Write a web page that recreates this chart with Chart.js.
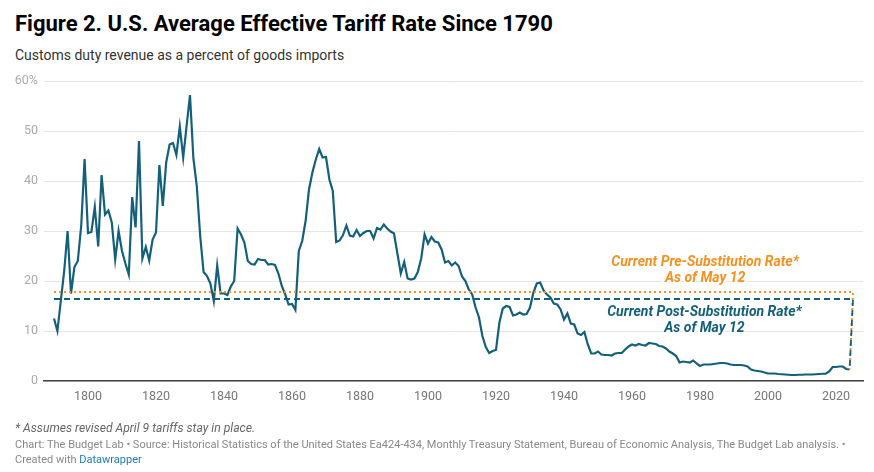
<!DOCTYPE html>
<html>
<head>
<meta charset="utf-8">
<script src="https://cdn.jsdelivr.net/npm/chart.js@4"></script>
<style>
  html, body { margin: 0; padding: 0; background: #fff; }
  body { width: 874px; height: 472px; position: relative; overflow: hidden; font-family: Roboto, sans-serif; }
  #grafico { position: absolute; left: 0; top: 0; }
  .txt { position: absolute; left: 15px; white-space: nowrap; }
  #titulo { top: 9px; font-size: 22px; font-weight: 700; color: #000; line-height: 30px; }
  #sub { top: 45px; font-size: 14px; color: #333; line-height: 20px; }
  #nota { top: 421px; font-size: 12.15px; font-style: italic; color: #666; line-height: 15px; }
  #fuente { top: 438px; font-size: 11px; color: #888; line-height: 14.5px; }
  #fuente a { color: #1a7fb0; text-decoration: none; }
</style>
</head>
<body>
<div class="txt" id="titulo">Figure 2. U.S. Average Effective Tariff Rate Since 1790</div>
<div class="txt" id="sub">Customs duty revenue as a percent of goods imports</div>
<canvas id="grafico" width="874" height="472"></canvas>
<div class="txt" id="nota">* Assumes revised April 9 tariffs stay in place.</div>
<div class="txt" id="fuente">Chart: The Budget Lab • Source: Historical Statistics of the United States Ea424-434, Monthly Treasury Statement, Bureau of Economic Analysis, The Budget Lab analysis. •<br>Created with <a>Datawrapper</a></div>

<script>
/* ── DATOS ─────────────────────────────────────────────────── */
const firstYear = 1790;
const tariffRate = [
  12.5, 10, 16, 22, 30, 17.5, 22.8, 24, 31, 44.4,
  29.6, 29.8, 34.8, 26.9, 41.2, 33.3, 34.1, 31.7, 24.3, 30,
  26, 23.5, 21.3, 36.8, 30.7, 48, 24.5, 26.8, 24.1, 28.3,
  29.7, 43.2, 35, 43.7, 47.3, 47.6, 45.2, 50.9, 44.7, 51,
  57.2, 44.5, 39, 29, 21.8, 21, 19.5, 16, 23.1, 17.5,
  17.5, 17.2, 18.9, 20, 30.5, 29.3, 27.7, 24, 23.4, 23.3,
  24.4, 24.2, 24.2, 23.3, 23.4, 23.2, 21.5, 19, 17.3, 15.3,
  15.4, 14.2, 26, 28, 32, 38.3, 41.7, 44.3, 46.4, 44.7,
  44.8, 40.3, 38, 27.8, 28.1, 29.2, 31.1, 29.1, 28.9, 30.2,
  29, 29.6, 30, 30, 28.5, 30.6, 30.3, 31.3, 30.5, 29.9,
  29.5, 25.5, 21.5, 23.8, 20.5, 20.3, 20.5, 21.8, 24.5, 29.3,
  27.5, 28.8, 27.9, 27.7, 26.3, 23.7, 24, 23.1, 23.7, 23,
  20.9, 20, 18.3, 17.3, 14.7, 12.7, 9, 6.8, 5.6, 6,
  6.2, 11.7, 14.5, 15, 14.8, 13.1, 13.3, 13.7, 13.3, 13.4,
  14.7, 17.7, 19.5, 19.7, 18.1, 17.3, 16.7, 15.5, 15.3, 14.3,
  12.3, 13.5, 11.5, 11.3, 9.5, 9.2, 9.8, 7.3, 5.5, 5.5,
  5.9, 5.3, 5.2, 5.2, 5.1, 5.5, 5.6, 5.6, 6.3, 6.9,
  7.3, 7.1, 7.4, 7.2, 7.1, 7.6, 7.5, 7.4, 7, 6.9,
  6.5, 5.9, 5.5, 5, 3.7, 3.9, 3.8, 3.7, 4.1, 3.5,
  3, 3.3, 3.3, 3.3, 3.4, 3.5, 3.6, 3.6, 3.5, 3.3,
  3.2, 3.2, 3.2, 3.1, 2.9, 2.3, 2.1, 2, 1.9, 1.7,
  1.5, 1.5, 1.5, 1.4, 1.35, 1.3, 1.25, 1.2, 1.2, 1.25,
  1.25, 1.3, 1.3, 1.3, 1.35, 1.4, 1.45, 1.45, 1.9, 2.8,
  2.8, 2.9, 2.9, 2.4, 2.3
];
const rateLineYears = [1790, 2025, 2024];
const preRateValues = [17.8, 17.8, 2.3];
const postRateValues = [16.4, 16.4, 2.3];
const xTicks = [1800, 1820, 1840, 1860, 1880, 1900, 1920, 1940, 1960, 1980, 2000, 2020];
const yTicks = [0, 10, 20, 30, 40, 50, 60];
const preLabelLines = ['Current Pre-Substitution Rate*', 'As of May 12'];
const postLabelLines = ['Current Post-Substitution Rate*', 'As of May 12'];

const COLOR_LINEA = '#14607a';
const COLOR_NARANJA = '#f7901e';

const toPoints = (xs, ys) => ys.map((y, i) => ({ x: xs[i], y }));
const years = tariffRate.map((_, i) => firstYear + i);

/* ── ETIQUETAS DE LAS TASAS ────────────────────────────────── */
const etiquetas = {
  id: 'etiquetas',
  afterDatasetsDraw(chart) {
    const { ctx, scales: { x, y } } = chart;
    const dibujar = (lineas, anio, valor, color) => {
      ctx.save();
      ctx.font = 'italic 700 14px Roboto';
      ctx.textAlign = 'center';
      ctx.textBaseline = 'middle';
      lineas.forEach((t, i) => {
        const py = y.getPixelForValue(valor) + i * 16;
        ctx.lineWidth = 3;
        ctx.strokeStyle = '#fff';
        ctx.strokeText(t, x.getPixelForValue(anio), py);
        ctx.fillStyle = color;
        ctx.fillText(t, x.getPixelForValue(anio), py);
      });
      ctx.restore();
    };
    dibujar(preLabelLines, 1981.5, 23.8, COLOR_NARANJA);
    dibujar(postLabelLines, 1981.3, 13.8, COLOR_LINEA);
  }
};

new Chart(document.getElementById('grafico'), {
  type: 'line',
  data: {
    datasets: [
      {
        data: toPoints(rateLineYears, postRateValues),
        borderColor: COLOR_LINEA,
        borderWidth: 1.8,
        borderDash: [6, 4],
        pointRadius: 0,
        tension: 0,
      },
      {
        data: toPoints(rateLineYears, preRateValues),
        borderColor: COLOR_NARANJA,
        borderWidth: 2,
        borderDash: [2, 3],
        pointRadius: 0,
        tension: 0,
      },
      {
        data: toPoints(years, tariffRate),
        borderColor: COLOR_LINEA,
        borderWidth: 2.2,
        pointRadius: 0,
        tension: 0,
      },
    ],
  },
  options: {
    responsive: false,
    animation: false,
    layout: { padding: { top: 81, right: 11, left: 0, bottom: 0 } },
    plugins: { legend: { display: false }, title: { display: false }, tooltip: { enabled: false } },
    scales: {
      x: {
        type: 'linear',
        min: 1787.06,
        max: 2027.94,
        afterBuildTicks: (axis) => { axis.ticks = xTicks.map(value => ({ value })); },
        afterFit: (axis) => { axis.height = 91; },
        grid: { display: false },
        border: { color: '#444', width: 1.5 },
        ticks: {
          autoSkip: false,
          maxRotation: 0,
          padding: 0,
          color: '#777',
          font: { family: 'Roboto', size: 12.5 },
          callback: (v) => String(v),
        },
      },
      y: {
        min: 0,
        max: 60,
        afterBuildTicks: (axis) => { axis.ticks = yTicks.map(value => ({ value })); },
        afterFit: (axis) => { axis.width = 44; },
        grid: { color: '#e6e6e6', lineWidth: 1, drawTicks: false },
        border: { display: false },
        ticks: {
          padding: 6,
          color: '#aaa',
          font: { family: 'Roboto', size: 12.5 },
          callback: (v) => (v === 60 ? v + '%' : v),
        },
      },
    },
  },
  plugins: [etiquetas],
});
</script>
</body>
</html>
